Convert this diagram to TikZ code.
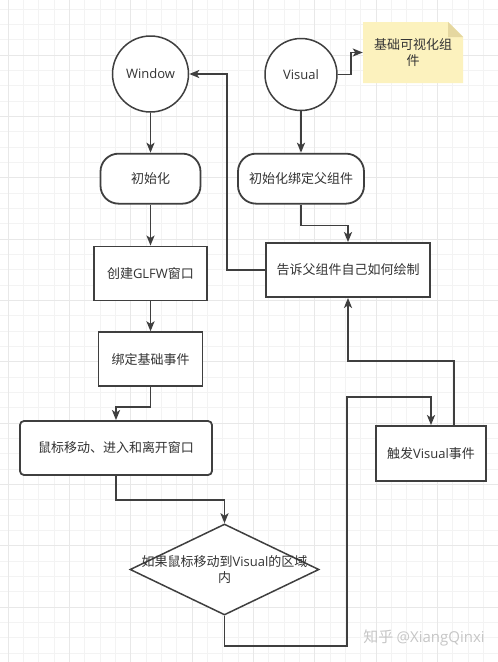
\documentclass[tikz,border=0pt]{standalone}
\usepackage{fontspec}
\setmainfont{Noto Sans CJK SC}
\newfontfamily\latin{Open Sans}
\usepackage{xcolor}
\usepackage{tikz}
\usetikzlibrary{positioning, arrows.meta, shapes.geometric}
\definecolor{ink}{HTML}{3F3F3F}
\definecolor{txt}{HTML}{333333}
\definecolor{notefill}{HTML}{FCF2BE}
\definecolor{notefold}{HTML}{E5D7A0}
\definecolor{gridminor}{HTML}{F3F3F3}
\definecolor{gridmajor}{HTML}{E8E8E8}
\tikzset{>={Stealth[length=10pt,width=8pt,inset=2.5pt]},
x=1pt, y=-1pt,
every node/.style={text=txt, font=\fontsize{13}{16}\selectfont, inner sep=0pt, align=center},
actor/.style={circle, draw=ink, line width=1.5pt, fill=white},
proc/.style={rectangle, draw=ink, line width=1.8pt, fill=white, minimum height=54pt},
term/.style={proc, rounded corners=18pt, minimum height=50pt},
decision/.style={diamond, draw=ink, line width=1.5pt, fill=white, minimum width=189pt, minimum height=91pt},
flow/.style={draw=ink, line width=1.8pt, ->},
minorgrid/.style={draw=gridminor, line width=0.8pt},
majorgrid/.style={draw=gridmajor, line width=1pt}}
\begin{document}
\begin{tikzpicture}
\useasboundingbox (0,0) rectangle (498,662);
\fill[white] (0,0) rectangle (498,662);
% grid
\foreach \k in {0,...,32} {\draw[minorgrid] ({8+15.333*\k},0) -- ++(0,662);}
\foreach \k in {0,...,43} {\draw[minorgrid] (0,{9+15.333*\k}) -- ++(498,0);}
\foreach \k in {0,...,8} {\draw[majorgrid] ({8+61.333*\k},0) -- ++(0,662);}
\foreach \k in {0,...,10} {\draw[majorgrid] (0,{-6.33+61.333*\k}) -- ++(498,0);}

% note
\fill[notefill] (363,22) -- (448,22) -- (463,37) -- (463,83) -- (363,83) -- cycle;
\fill[notefold] (448,22) -- (448,37) -- (463,37) -- cycle;
\node[minimum width=100pt, minimum height=61pt] (note) at (413,52.5) {基础可视化组\\件};

% left column
\node[actor, minimum size=76pt] (win) at (150.5,74) {\latin Window};
\node[term, minimum width=100pt, below=40pt of win] (init) {初始化};
\node[proc, minimum width=113pt, below=41pt of init] (glfw) {创建{\latin GLFW}窗口};
\node[proc, minimum width=104pt, below=30pt of glfw] (evt) {绑定基础事件};
\node[proc, rounded corners=4pt, minimum width=192pt] (mouse) at (116,448) {鼠标移动、进入和离开窗口};
\node[decision, label={center:如果鼠标移动到{\latin Visual}的区域\\内}] (cond) at (224.5,569.5) {};

% right column
\node[actor, minimum size=72pt] (vis) at (301,74.5) {\latin Visual};
\node[term, minimum width=126pt, below=41.5pt of vis] (bind) {初始化绑定父组件};
\node[proc, minimum width=164pt] (tell) at (348,270) {告诉父组件自己如何绘制};
\node[proc, minimum width=110pt, minimum height=55pt] (fire) at (431,453.5) {触发{\latin Visual}事件};

\node[text=gray!45, font=\fontsize{15}{18}\selectfont] (mark) at (424,638) {知乎 {\latin @XiangQinxi}};

\draw[flow] (win) -- (init);
\draw[flow] (init) -- (glfw);
\draw[flow] (glfw) -- (evt);
\draw[flow] (evt.south) -- ++(0,20) -| (mouse.north);
\draw[flow] (mouse.south) -- ++(0,24) -| (cond.north);
\draw[flow] (cond.south) -- ++(0,30) -| (347,397) -| (fire.north);
\draw[flow] ([xshift=23pt]fire.north) -- ++(0,-64) -| (tell.south);
\draw[flow] (vis) -- (bind);
\draw[flow] (bind.south) -- ++(0,21) -| (tell.north);
\draw[flow] (tell.west) -- ++(-38,0) |- (win.east);
\draw[flow] (vis.east) -- ++(13,0) |- (note.west);
\end{tikzpicture}
\end{document}
